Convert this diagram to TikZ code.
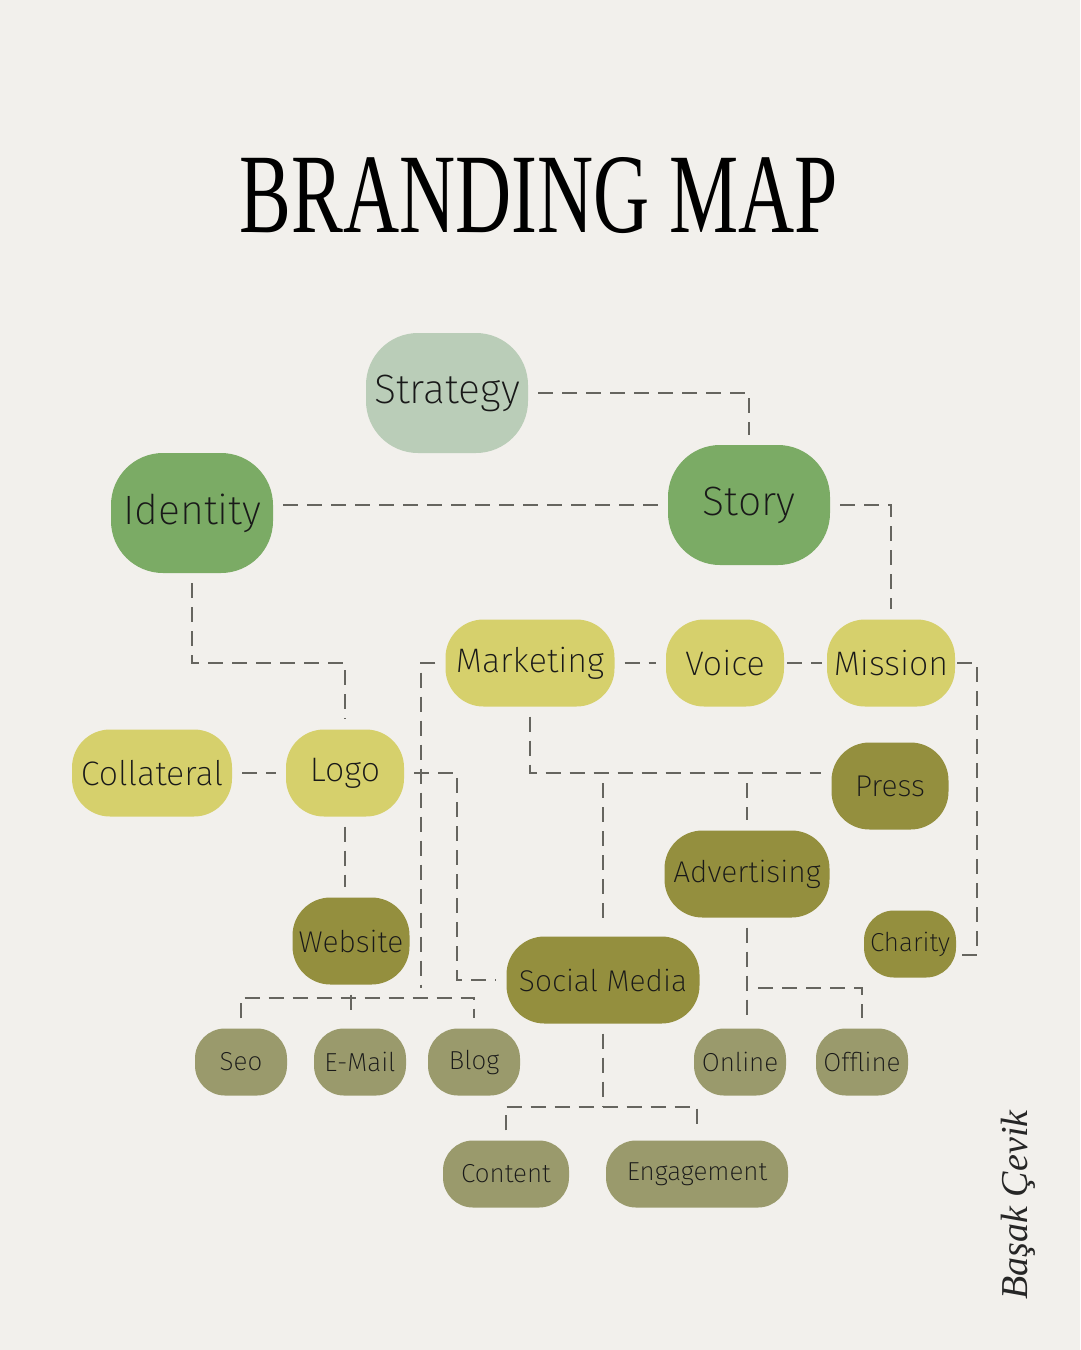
\documentclass[tikz,border=0pt]{standalone}
\usepackage{fontspec}
\usepackage{graphicx}
\setmainfont{Fira Sans ExtraLight}
\newfontfamily\titlefont{Liberation Serif}
\usetikzlibrary{calc}
\definecolor{paper}{HTML}{F2F0EC}
\definecolor{sage}{HTML}{BACDB8}
\definecolor{leaf}{HTML}{7BAB65}
\definecolor{straw}{HTML}{D6D06C}
\definecolor{olive}{HTML}{948F3E}
\definecolor{moss}{HTML}{9A9A6C}
\definecolor{dashgray}{HTML}{66655F}
\tikzset{box/.style={fill=#1,inner sep=0pt,text=black!90},
    big/.style={box=#1,minimum width=162pt,minimum height=120pt,
        rounded corners=52pt,font=\fontsize{41}{41}\selectfont},
    mid/.style={box=#1,minimum height=87pt,rounded corners=38pt,
        font=\fontsize{34}{34}\selectfont},
    low/.style={box=#1,minimum height=87pt,rounded corners=38pt,
        font=\fontsize{30}{30}\selectfont},
    small/.style={box=#1,minimum height=67pt,rounded corners=30pt,
        font=\fontsize{26}{26}\selectfont},
    link/.style={draw=dashgray,line width=2.2pt,dash pattern=on 15pt off 9pt,
        shorten >=10pt,shorten <=10pt}}

\begin{document}
\begin{tikzpicture}[x=1pt,y=-1pt]
\fill[paper] (0,0) rectangle (1080,1350);
\node[inner sep=0pt] (title) at (539,196) {\titlefont\resizebox{598pt}{75pt}{BRANDING MAP}};

\node[big=sage] (strategy) at (447,393) {Strategy};
\node[big=leaf] (story) at (749,505) {Story};
\node[big=leaf] (identity) at (192,513) {Identity};

\node[mid=straw,minimum width=169pt] (marketing) at (530,663) {Marketing};
\node[mid=straw,minimum width=118pt] (voice) at (725,663) {Voice};
\node[mid=straw,minimum width=128pt] (mission) at (891,663) {Mission};
\node[mid=straw,minimum width=160pt] (collateral) at (152,773) {Collateral};
\node[mid=straw,minimum width=118pt] (logo) at (345,773) {Logo};

\node[low=olive,minimum width=117pt] (press) at (890,786) {Press};
\node[low=olive,minimum width=165pt] (advertising) at (747,874) {Advertising};
\node[low=olive,minimum width=117pt] (website) at (351,941) {Website};
\node[low=olive,minimum width=193pt] (social) at (603,980) {Social Media};
\node[small=olive,minimum width=92pt] (charity) at (910,944) {Charity};

\node[small=moss,minimum width=92pt] (seo) at (241,1062) {Seo};
\node[small=moss,minimum width=92pt] (email) at (360,1062) {E-Mail};
\node[small=moss,minimum width=92pt] (blog) at (474,1062) {Blog};
\node[small=moss,minimum width=92pt] (online) at (740,1062) {Online};
\node[small=moss,minimum width=92pt] (offline) at (862,1062) {Offline};
\node[small=moss,minimum width=126pt] (content) at (506,1174) {Content};
\node[small=moss,minimum width=182pt] (engagement) at (697,1174) {Engagement};

\node[rotate=90,font=\titlefont\itshape\fontsize{38}{38}\selectfont,text=black!85] (sign) at (1018,1205) {Başak Çevik};

\coordinate (missionturn) at (977,955);
\coordinate (marketturn) at (421,998);
\coordinate (webbar) at (351,998);
\coordinate (socialturn) at (457,980);
\coordinate (offbar) at (748,988);
\coordinate (contentbar) at (603,1107);

\draw[link] (strategy.east) -| (story.north);
\draw[link] (identity.east |- story.west) -- (story.west);
\draw[link] (story.east) -| (mission.north);
\draw[link] (identity.south) |- (logo.north |- marketing.west) -- (logo.north);
\draw[link] (collateral.east) -- (logo.west);
\draw[link] (logo.south) -- (logo.south |- website.north);
\draw[link] (marketing.east) -- (voice.west);
\draw[link,shorten >=5pt,shorten <=3pt] (voice.east) -- (mission.west);
\draw[link,shorten <=2pt,shorten >=2pt] (mission.east) -| (missionturn) -- (missionturn -| charity.east);
\draw[link] (marketing.west) -| (marketturn);
\draw[link] (seo.north) |- (webbar) -| (blog.north);
\draw[link] (website.south) -- (website.south |- email.north);
\draw[link] (logo.east) -| (socialturn) -- (social.west);
\draw[link] (marketing.south) |- (press.west |- logo.east);
\draw[link] (social.north |- logo.east) -- (social.north);
\draw[link] (advertising.north |- logo.east) -- (advertising.north);
\draw[link] (advertising.south) -- (advertising.south |- online.north);
\draw[link] (offbar) -| (offline.north);
\draw[link,shorten >=0pt] (social.south) -- (contentbar);
\draw[link] (content.north) |- (contentbar) -| (engagement.north);
\end{tikzpicture}
\end{document}
